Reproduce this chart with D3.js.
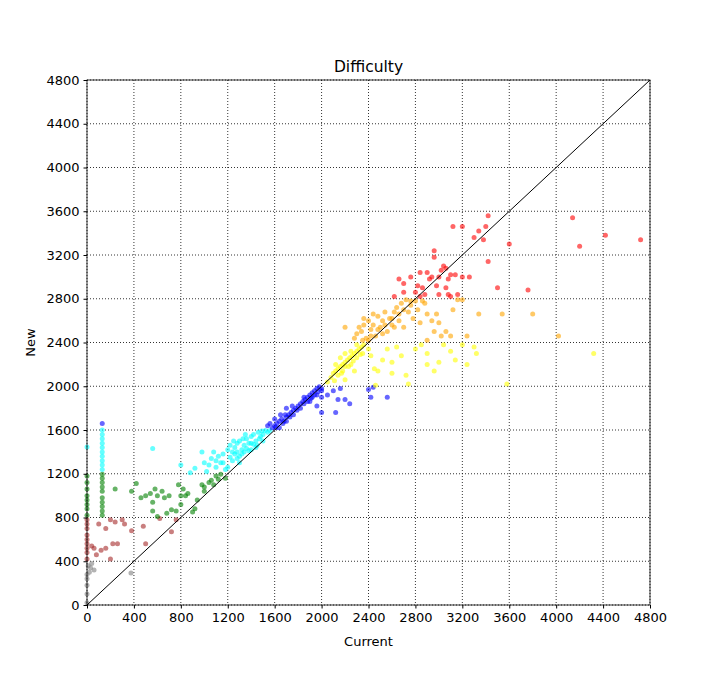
<!DOCTYPE html>
<html>
<head>
<meta charset="utf-8">
<script src="https://cdn.jsdelivr.net/npm/d3@7"></script>
<style>
  body { margin: 0; background: #fff; }
  text { font-family: "DejaVu Sans", sans-serif; }
</style>
</head>
<body>
<svg id="chart" width="720" height="678"></svg>
<script>
// [current, new] pairs, grouped roughly by band of the new value
const grayPts = [[0,20],[0,100],[0,180],[0,240],[0,280],[20,300],[30,340],[40,380],[10,360],[60,320],[375,292]];
const brownPts = [[0,420],[0,480],[0,520],[0,560],[0,600],[0,640],[0,700],[0,740],[0,780],[40,540],[60,520],[80,460],
  [120,500],[160,700],[200,780],[220,560],[260,560],[240,760],[300,780],[320,740],[380,680],[500,560],[480,720],
  [620,790],[720,670],[760,780],[200,420],[100,740],[160,520]];
const greenPts = [[0,820],[0,880],[0,920],[0,960],[0,1000],[0,1060],[0,1120],[0,1180],[130,820],[130,860],[130,900],
  [130,940],[130,980],[130,1040],[130,1080],[130,1120],[130,1160],[130,1195],[240,1060],[380,1040],[420,1110],
  [460,980],[500,1000],[540,1020],[560,940],[580,1060],[600,1000],[640,1040],[660,980],[700,1000],[720,870],
  [760,860],[780,1100],[800,1000],[820,1060],[840,1000],[860,1020],[900,850],[920,880],[940,960],[980,1100],
  [1000,1080],[1040,1120],[1060,1140],[1080,1100],[1100,1180],[1120,1150],[1140,1195],[1000,1040],[560,860],
  [1180,1160],[600,810],[680,840],[800,920]];
const cyanPts = [[130,1240],[130,1280],[130,1320],[130,1360],[130,1400],[130,1440],[130,1480],[130,1520],[130,1560],
  [130,1600],[0,1444],[560,1430],[800,1280],[920,1250],[980,1400],[1000,1300],[1040,1280],[1060,1340],[1080,1400],
  [1100,1320],[1120,1360],[1140,1300],[1160,1380],[1200,1420],[1220,1460],[1240,1400],[1260,1440],[1280,1480],
  [1300,1500],[1320,1420],[1340,1460],[1360,1520],[1380,1480],[1400,1540],[1420,1560],[1440,1500],[1460,1580],
  [1480,1540],[1500,1560],[1520,1595],[1540,1580],[1560,1595],[1200,1260],[1180,1240],[1260,1380],[1300,1360],
  [1340,1400],[1400,1420],[1440,1440],[1250,1500],[1350,1560],[880,1210],[1020,1220],[1100,1260],[1300,1300],
  [1450,1460],[1220,1350],[1280,1400],[1320,1380],[1360,1430],[1380,1410],[1420,1470],[1470,1520],[1500,1500],
  [1160,1300],[1240,1320],[1280,1340],[1330,1520],[1400,1480],[1490,1590]];
const bluePts = [[1580,1620],[1600,1640],[1620,1660],[1640,1680],[1660,1700],[1680,1680],[1700,1720],[1720,1740],
  [1740,1760],[1760,1780],[1780,1800],[1800,1820],[1820,1840],[1840,1860],[1860,1880],[1880,1900],[1900,1920],
  [1920,1940],[1940,1960],[1960,1980],[1980,1995],[1640,1620],[1700,1680],[1760,1740],[1820,1800],[1880,1860],
  [1940,1920],[2000,1960],[1600,1700],[1650,1740],[1700,1800],[1750,1820],[1850,1900],[1900,1860],[1920,1900],
  [1960,1920],[2000,1980],[2050,1920],[2100,1960],[2140,1880],[2160,1980],[2200,1880],[2240,1840],[2000,1900],
  [1960,1820],[2000,1760],[2120,1760],[2400,1970],[2420,1900],[2440,1990],[2560,1900],[1540,1640],[1560,1660],
  [130,1660],[1610,1620],[1670,1660],[1730,1720],[1790,1780],[1850,1840],[1910,1890],[1970,1950],[1690,1740]];
const yellowPts = [[2080,2080],[2100,2120],[2120,2140],[2140,2160],[2160,2180],[2180,2200],[2200,2220],[2220,2240],
  [2240,2260],[2260,2280],[2280,2300],[2300,2320],[2320,2340],[2340,2360],[2360,2380],[2140,2100],[2180,2140],
  [2200,2180],[2250,2200],[2300,2260],[2050,2040],[2120,2200],[2160,2260],[2200,2300],[2250,2320],[2300,2380],
  [2200,2060],[2280,2140],[2350,2300],[2400,2340],[2420,2280],[2450,2160],[2480,2140],[2520,2240],[2600,2220],
  [2640,2360],[2680,2280],[2720,2100],[2740,2020],[2800,2340],[2850,2380],[2900,2300],[2960,2140],[3000,2220],
  [3040,2380],[3100,2320],[3140,2240],[3200,2380],[3240,2200],[3300,2360],[3320,2300],[3580,2020],[4320,2300],
  [2900,2200],[2560,2340],[2600,2120],[2460,2010],[2110,2050],[2170,2120],[2230,2180],[2270,2230],[2330,2290]];
const orangePts = [[2280,2440],[2300,2480],[2320,2540],[2340,2500],[2360,2560],[2380,2440],[2400,2420],[2400,2600],
  [2420,2520],[2440,2560],[2460,2460],[2480,2640],[2500,2540],[2520,2600],[2540,2680],[2560,2500],[2580,2620],
  [2600,2560],[2620,2680],[2640,2720],[2660,2600],[2680,2760],[2700,2540],[2720,2790],[2740,2680],[2760,2740],
  [2780,2620],[2800,2780],[2820,2700],[2840,2580],[2860,2780],[2880,2760],[2900,2660],[2940,2600],[2960,2500],
  [3000,2580],[3020,2460],[3060,2500],[3100,2460],[3120,2700],[3160,2790],[3200,2790],[3240,2460],[3340,2660],
  [3540,2660],[3800,2660],[4020,2460],[2200,2540],[2900,2420],[2980,2660],[2620,2540],[2520,2480],[2360,2620],
  [2440,2660],[2350,2420],[2420,2460],[2480,2520],[2540,2560],[2600,2620],[2660,2660],[2700,2700],[2760,2780]];
const redPts = [[2620,2820],[2660,2980],[2700,2860],[2760,3000],[2800,2860],[2820,2920],[2840,3040],[2860,2900],
  [2880,2840],[2900,3040],[2920,2980],[2940,3000],[2960,3240],[2980,2920],[3000,3000],[3020,3060],[3040,3100],
  [3060,2900],[3060,3080],[3080,2840],[3100,3020],[3120,3460],[3140,3020],[3160,2840],[3200,3000],[3200,3460],
  [3260,3000],[3300,3360],[3340,3420],[3380,3340],[3400,3460],[3420,3560],[3420,3140],[3500,2900],[3600,3300],
  [3760,2880],[4140,3540],[4200,3280],[4420,3380],[4720,3340],[2960,3180],[3080,2980],[2700,2940],[3100,2820],
  [3000,2840],[2840,2820]];

const groups = [
  { color: 'grey', pts: grayPts },
  { color: 'brown', pts: brownPts },
  { color: 'green', pts: greenPts },
  { color: 'cyan', pts: cyanPts },
  { color: 'blue', pts: bluePts },
  { color: 'yellow', pts: yellowPts },
  { color: 'orange', pts: orangePts },
  { color: 'red', pts: redPts }
];
const ticks = d3.range(0, 4801, 400);

const svg = d3.select('#chart');
const margin = { top: 80, right: 70, bottom: 73, left: 87 };
const width = 720 - margin.left - margin.right;
const height = 678 - margin.top - margin.bottom;
const g = svg.append('g').attr('transform', `translate(${margin.left},${margin.top})`);

const x = d3.scaleLinear().domain([0, 4800]).range([0, width]);
const y = d3.scaleLinear().domain([0, 4800]).range([height, 0]);

// grid
g.append('g').selectAll('line').data(ticks).enter().append('line')
  .attr('x1', d => x(d)).attr('x2', d => x(d)).attr('y1', 0).attr('y2', height)
  .attr('stroke', '#000').attr('stroke-width', 0.8).attr('stroke-dasharray', '1,2');
g.append('g').selectAll('line').data(ticks).enter().append('line')
  .attr('y1', d => y(d)).attr('y2', d => y(d)).attr('x1', 0).attr('x2', width)
  .attr('stroke', '#000').attr('stroke-width', 0.8).attr('stroke-dasharray', '1,2');

// points
groups.forEach(grp => {
  g.append('g').selectAll('circle').data(grp.pts).enter().append('circle')
    .attr('cx', d => x(d[0])).attr('cy', d => y(d[1])).attr('r', 2.5)
    .attr('fill', grp.color).attr('fill-opacity', 0.6);
});

// diagonal
g.append('line')
  .attr('x1', x(0)).attr('y1', y(0)).attr('x2', x(4800)).attr('y2', y(4800))
  .attr('stroke', '#000').attr('stroke-width', 1);

// axes
const fmt = d3.format('d');
const xAxis = g.append('g').attr('transform', `translate(0,${height})`)
  .call(d3.axisBottom(x).tickValues(ticks).tickFormat(fmt).tickSize(3.5).tickPadding(4));
const yAxis = g.append('g').call(d3.axisLeft(y).tickValues(ticks).tickFormat(fmt).tickSize(3.5).tickPadding(4));
[xAxis, yAxis].forEach(a => {
  a.selectAll('text').attr('font-size', 13).attr('font-family', 'DejaVu Sans, sans-serif').attr('fill', '#000');
  a.select('.domain').remove();
});

g.append('rect').attr('width', width).attr('height', height)
  .attr('fill', 'none').attr('stroke', '#000').attr('stroke-width', 0.8);

svg.append('text').attr('x', margin.left + width / 2).attr('y', 72)
  .attr('text-anchor', 'middle').attr('font-size', 15.5).text('Difficulty');
svg.append('text').attr('x', margin.left + width / 2).attr('y', 646)
  .attr('text-anchor', 'middle').attr('font-size', 13).text('Current');
svg.append('text').attr('transform', `translate(35,${margin.top + height / 2}) rotate(-90)`)
  .attr('text-anchor', 'middle').attr('font-size', 13).text('New');
</script>
</body>
</html>
